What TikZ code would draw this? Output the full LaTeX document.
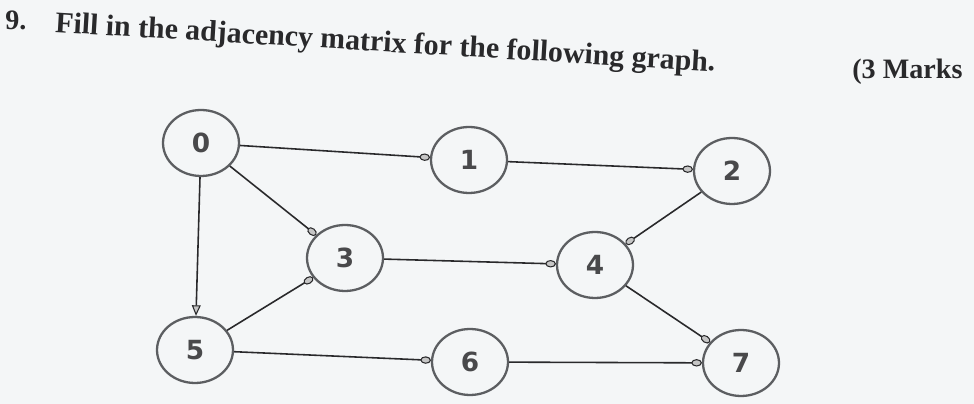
\documentclass[tikz,border=0pt]{standalone}
\usepackage{fontspec}
\setmainfont{Liberation Serif}
\newfontfamily\digitfont{DejaVu Sans}
\usetikzlibrary{arrows.meta,shapes.geometric}
\definecolor{paper}{rgb}{0.955,0.965,0.968}
\definecolor{ink}{rgb}{0.16,0.16,0.17}
\definecolor{ringc}{rgb}{0.36,0.37,0.38}
\tikzset{
  vtx/.style={ellipse, draw=ringc, line width=1.3pt, minimum width=1.52cm, minimum height=1.32cm, inner sep=0pt,
    font=\digitfont\bfseries\fontsize{15}{15}\selectfont, text=ink!85},
  edge/.style={draw=ink, line width=0.9pt, -{Ellipse[length=6pt,width=4.2pt,fill=gray!45,line width=0.6pt]}},
  edgetri/.style={draw=ink, line width=0.9pt, -{Triangle[length=6pt,width=5pt,fill=gray!45,line width=0.6pt]}},
  headtext/.style={text=ink, inner sep=0pt, font=\bfseries\fontsize{16}{16}\selectfont},
}
\begin{document}
\begin{tikzpicture}[x=0.02cm,y=-0.02cm]
\fill[paper] (0,0) rectangle (974,404);
\useasboundingbox (0,0) rectangle (974,404);
\node[headtext, anchor=west] (num) at (5,20) {9.};
\node[headtext, anchor=west, font=\bfseries\fontsize{17}{17}\selectfont, rotate=-3.4] (title) at (55,25) {Fill in the adjacency matrix for the following graph.};
\node[headtext, anchor=west] (marks) at (852,72) {(3 Marks};
\node[vtx] (n0) at (201,143) {0};
\node[vtx] (n1) at (469,160) {1};
\node[vtx] (n2) at (732,171) {2};
\node[vtx] (n3) at (345,258) {3};
\node[vtx] (n4) at (595,265) {4};
\node[vtx] (n5) at (195,350) {5};
\node[vtx] (n6) at (470,362) {6};
\node[vtx] (n7) at (741,363) {7};
\draw[edge] (n0) -- (n1);
\draw[edge] (n1) -- (n2);
\draw[edge] (n0) -- (n3);
\draw[edgetri] (n0) -- (n5);
\draw[edge] (n2) -- (n4);
\draw[edge] (n3) -- (n4);
\draw[edge] (n5) -- (n3);
\draw[edge] (n5) -- (n6);
\draw[edge] (n6) -- (n7);
\draw[edge] (n4) -- (n7);
\end{tikzpicture}
\end{document}
